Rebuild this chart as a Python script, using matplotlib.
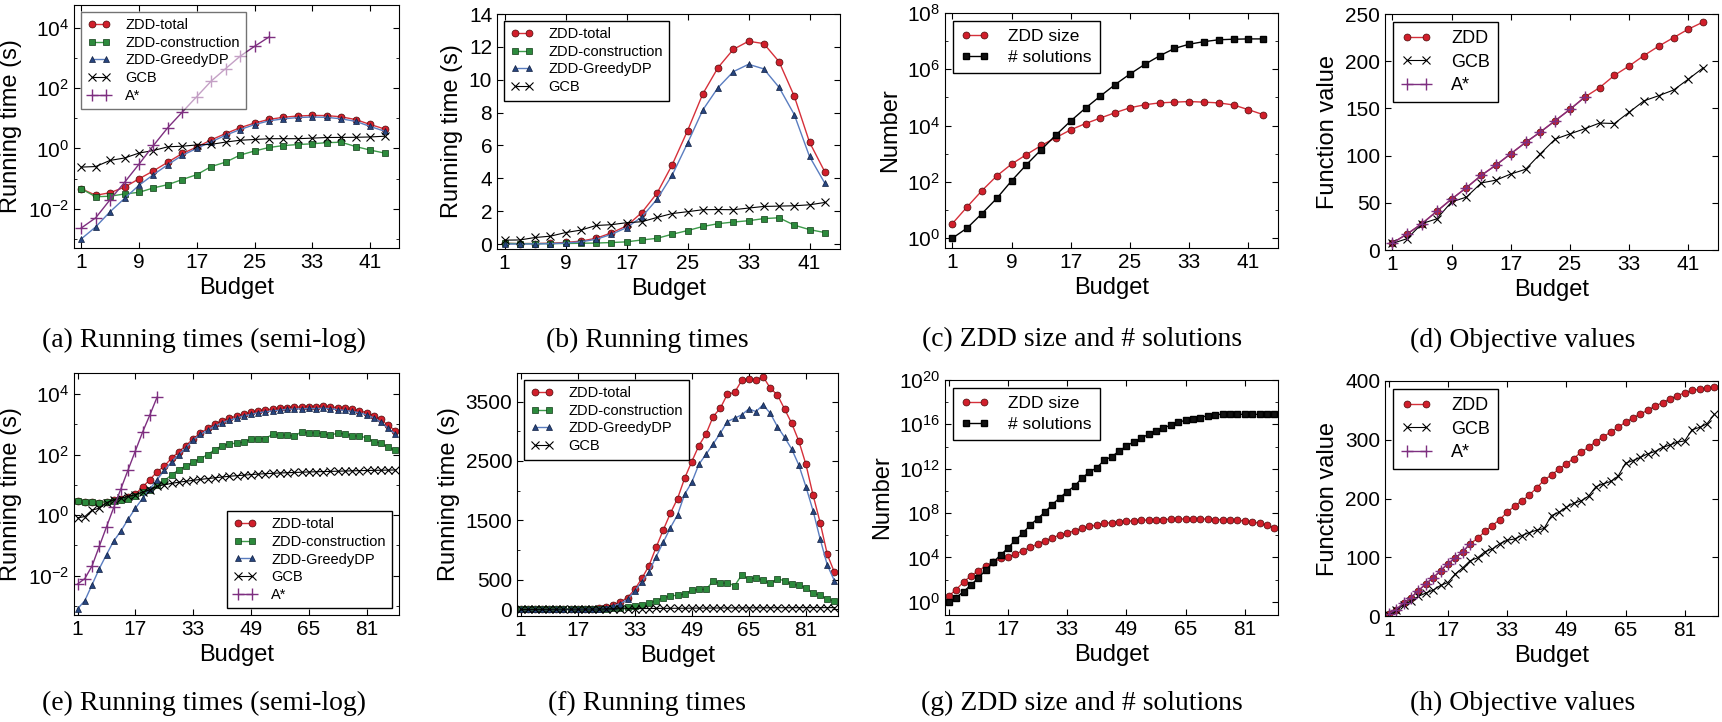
import numpy as np
import matplotlib
matplotlib.use("Agg")
import matplotlib.pyplot as plt
from matplotlib.ticker import NullFormatter

# ---- data: top row (budgets 1..43) ----
budget_top = list(range(1, 44, 2))
astar_top_budget = list(range(1, 28, 2))

total_top = [0.046, 0.028, 0.034, 0.052, 0.098, 0.18, 0.35, 0.68, 1.1, 1.92, 3.1,
             4.84, 6.9, 9.14, 10.74, 11.85, 12.34, 12.2, 11.1, 9.0, 6.2, 4.4]
constr_top = [0.046, 0.025, 0.026, 0.031, 0.035, 0.049, 0.063, 0.093, 0.135, 0.25, 0.35,
              0.6, 0.82, 1.07, 1.24, 1.34, 1.42, 1.55, 1.6, 1.15, 0.88, 0.7]
greedy_top = [0.001, 0.0025, 0.008, 0.022, 0.06, 0.135, 0.29, 0.59, 1.0, 1.65, 2.73,
              4.21, 6.14, 8.16, 9.52, 10.49, 10.94, 10.66, 9.54, 7.88, 5.33, 3.71]
gcb_time_top = [0.24, 0.25, 0.4, 0.48, 0.7, 0.85, 1.13, 1.18, 1.3, 1.36, 1.62,
                1.86, 1.97, 2.09, 2.1, 2.09, 2.19, 2.29, 2.31, 2.33, 2.39, 2.53]
astar_time_top = [0.0023, 0.005, 0.02, 0.075, 0.3, 1.25, 4.9, 16, 52, 170, 440,
                  1130, 2400, 4900]

zdd_size_top = [3.3, 13, 49, 163, 430, 930, 1960, 3750, 7100, 11800, 18600,
                28700, 43000, 55000, 64000, 68000, 71500, 68000, 64000, 54000, 36700, 24500]
n_sol_top = [1, 2.3, 7.5, 26, 109, 407, 1390, 4650, 14700, 42000, 1.12e5,
             2.88e5, 6.8e5, 1.5e6, 3.0e6, 5.5e6, 7.8e6, 9.6e6, 1.12e7, 1.17e7, 1.2e7, 1.2e7]

zdd_obj_top = [7.4, 17, 28, 41, 54, 66, 79, 90, 102, 114, 125,
               137, 149, 162, 172, 185, 195, 206, 216, 225, 234, 241.5]
gcb_obj_top = [7, 12, 28, 33, 51, 56, 71, 74, 80.5, 85.5, 102,
               117.5, 123, 128.5, 134.5, 134, 146, 158, 163.5, 169.5, 181, 193]
astar_obj_top = [7.4, 17, 28, 41, 54, 66, 79, 90, 102, 114, 125, 137, 149, 162]

# ---- data: bottom row (budgets 1..89) ----
budget_bot = list(range(1, 90, 2))
astar_bot_budget = list(range(1, 24, 2))

total_bot = [3.0, 2.8, 2.7, 2.6, 2.8, 3.1, 3.4, 3.9, 5.0, 8.5,
             15, 27, 42, 76, 125, 200, 337, 522, 736, 1045,
             1337, 1618, 1865, 2208, 2489, 2758, 2955, 3247, 3388, 3624,
             3652, 3854, 3882, 3865, 3921, 3725, 3612, 3376, 3135, 2837,
             2444, 1927, 1461, 927, 624]
constr_bot = [3.0, 2.8, 2.7, 2.6, 2.8, 3.0, 3.2, 3.4, 4.4, 5.8,
              6.9, 10, 14, 21, 32, 42, 56, 73, 101, 146,
              197, 225, 242, 258, 326, 337, 337, 478, 438, 449,
              399, 579, 511, 534, 489, 438, 517, 483, 421, 410,
              365, 270, 242, 174, 140]
greedy_bot = [0.0008, 0.0015, 0.005, 0.017, 0.05, 0.14, 0.3, 0.74, 1.7, 3.6,
              7.3, 15, 30, 58, 100, 169, 309, 466, 635, 888,
              1129, 1376, 1590, 1938, 2140, 2444, 2612, 2787, 2966, 3163,
              3219, 3275, 3376, 3331, 3444, 3303, 3079, 2899, 2702, 2433,
              2067, 1663, 1185, 747, 483]
gcb_time_bot = [0.82, 0.9, 1.47, 1.7, 2.6, 3.2, 3.6, 4.2, 4.7, 5.8,
                6.9, 8.9, 10.2, 11.2, 12.3, 13.2, 14.2, 15.2, 16.2, 17.2,
                18.3, 19.3, 20.2, 21, 22, 22.8, 23.5, 24.2, 24.8, 25.3,
                25.8, 26.3, 26.8, 27.2, 27.6, 28, 28.4, 28.8, 29.2, 29.6,
                30, 30.3, 30.6, 30.9, 31.2]
astar_time_bot = [0.0053, 0.008, 0.021, 0.093, 0.41, 1.8, 7.5, 32, 134, 560, 2050, 7900]

zdd_size_bot = [3.3, 12, 60, 213, 600, 1700, 3600, 7900, 11000, 19500,
                39000, 78000, 1.58e5, 3.16e5, 5.5e5, 1.1e6, 1.55e6, 2.5e6, 4.2e6, 6.3e6,
                8.3e6, 1.2e7, 1.35e7, 1.66e7, 1.8e7, 2.0e7, 2.3e7, 2.3e7, 2.5e7, 2.5e7,
                2.9e7, 2.9e7, 2.9e7, 3.1e7, 2.9e7, 2.9e7, 2.6e7, 2.5e7, 2.3e7, 2.2e7,
                1.9e7, 1.6e7, 1.2e7, 8.3e6, 4.5e6]
n_sol_bot = [1, 2.3, 8.1, 32, 138, 690, 3600, 1.6e4, 6.8e4, 3.6e5,
             1.55e6, 7.8e6, 3.1e7, 1.2e8, 5.8e8, 2.3e9, 8.7e9, 2.6e10, 1.4e11, 4.9e11,
             1.2e12, 5.6e12, 1.2e13, 3.6e13, 1.1e14, 2.6e14, 5.5e14, 1.3e15, 2.6e15, 4.8e15,
             8.3e15, 1.55e16, 2.3e16, 3.3e16, 4.1e16, 6.2e16, 7.6e16, 8e16, 8e16, 8e16,
             8e16, 8e16, 8e16, 8e16, 8e16]

zdd_obj_bot = [3.4, 11, 22, 31, 43, 54.5, 65, 77, 89, 99,
               109, 123, 132, 144, 154, 164, 176.5, 187, 196, 206,
               218, 231.5, 240, 250, 259, 268, 279, 287, 297, 305,
               313, 321, 330, 337, 344, 350, 357.5, 363, 369.5, 375,
               380, 384, 386, 388, 389]
gcb_obj_bot = [2.3, 10, 19, 25, 33.5, 39, 44, 52, 57, 71.5,
               82, 94, 99, 109.5, 114, 123, 129, 131, 137, 142,
               146, 149, 171, 176.5, 185, 192, 196, 204, 220, 225,
               229, 238, 260, 264.5, 270, 276, 280, 287, 291, 296,
               298, 317, 321, 327, 343]
astar_obj_bot = [3.4, 11, 22, 31, 43, 54.5, 65, 77, 89, 99, 109, 123]

xticks_top = [1, 9, 17, 25, 33, 41]
xticks_bot = [1, 17, 33, 49, 65, 81]

captions = ["(a) Running times (semi-log)", "(b) Running times",
            "(c) ZDD size and # solutions", "(d) Objective values",
            "(e) Running times (semi-log)", "(f) Running times",
            "(g) ZDD size and # solutions", "(h) Objective values"]

# ---- style ----
plt.rcParams.update({
    "font.family": ["Liberation Sans", "DejaVu Sans"],
    "mathtext.default": "regular",
    "xtick.direction": "in", "ytick.direction": "in",
    "xtick.top": True, "ytick.right": True,
    "xtick.major.size": 4, "ytick.major.size": 4,
    "xtick.minor.size": 2, "ytick.minor.size": 2,
    "xtick.labelsize": 15, "ytick.labelsize": 15,
    "axes.labelsize": 17,
    "axes.linewidth": 0.8,
    "legend.numpoints": 2, "legend.fancybox": False,
    "legend.edgecolor": "black", "legend.framealpha": 1,
})

RED, RED_L = "#d11f2b", "#d6303a"
GRN, GRN_L = "#2c8a3c", "#3d9b4a"
BLU, BLU_L = "#27457f", "#5a7dc0"
PUR = "#7e2f80"

W, H = 1722, 722
fig = plt.figure(figsize=(W / 100, H / 100), dpi=100)


def add_ax(x0, x1, y0, y1):
    return fig.add_axes([x0 / W, 1 - y1 / H, (x1 - x0) / W, (y1 - y0) / H])


def time_legend(ax, loc, alpha=1.0):
    ax.legend(loc=loc, handlelength=1.6, handletextpad=1.0, labelspacing=0.25,
              borderpad=0.45, borderaxespad=0.45, fontsize=10.5, framealpha=alpha)


def small_legend(ax, fs):
    ax.legend(loc="upper left", handlelength=1.65, handletextpad=1.1, labelspacing=0.35,
              borderpad=0.45, borderaxespad=0.45, fontsize=fs)


def time_lines(ax, xs, tot, con, gre, gcb, ms):
    ax.plot(xs, tot, "-o", color=RED_L, mfc=RED, mec="#4a0a0a", mew=0.5, ms=ms, lw=1, label="ZDD-total")
    ax.plot(xs, con, "-s", color=GRN_L, mfc=GRN, mec="#0f3a15", mew=0.5, ms=ms, lw=1, label="ZDD-construction")
    ax.plot(xs, gre, "-^", color=BLU_L, mfc=BLU, mec="#101f40", mew=0.5, ms=ms, lw=1, label="ZDD-GreedyDP")
    ax.plot(xs, gcb, "-x", color="black", mew=0.8, ms=ms + 1, lw=0.8, label="GCB")


def log_ticks(ax, major, minor):
    ax.set_yticks([10.0 ** e for e in major])
    ax.set_yticks([10.0 ** e for e in minor], minor=True)
    ax.set_yticklabels(["$10^{%d}$" % e for e in major])
    ax.yaxis.set_minor_formatter(NullFormatter())


# (a)
ax = add_ax(74, 399, 5, 248)
time_lines(ax, budget_top, total_top, constr_top, greedy_top, gcb_time_top, 5)
ax.plot(astar_top_budget, astar_time_top, "-+", color=PUR, mew=1, ms=8, lw=1, label="A*")
ax.set_yscale("log")
ax.set_ylim(10 ** -3.3, 10 ** 4.75)
log_ticks(ax, [-2, 0, 2, 4], [-3, -1, 1, 3])
ax.set_ylabel("Running time (s)")
time_legend(ax, "upper left", alpha=0.55)

# (b)
ax = add_ax(497, 840, 14, 249)
time_lines(ax, budget_top, total_top, constr_top, greedy_top, gcb_time_top, 5)
ax.set_ylim(-0.3, 14)
ax.set_yticks(range(0, 15, 2))
ax.set_ylabel("Running time (s)")
time_legend(ax, "upper left")

# (c)
ax = add_ax(945, 1278, 13, 248)
ax.plot(budget_top, zdd_size_top, "-o", color=RED_L, mfc=RED, mec="#4a0a0a", mew=0.5, ms=5, lw=1, label="ZDD size")
ax.plot(budget_top, n_sol_top, "-s", color="black", mfc="#111111", mec="black", ms=5, lw=1, label="# solutions")
ax.set_yscale("log")
ax.set_ylim(10 ** -0.35, 1e8)
log_ticks(ax, [0, 2, 4, 6, 8], [1, 3, 5, 7])
ax.set_ylabel("Number")
small_legend(ax, 12.5)

# (d)
ax = add_ax(1385, 1718, 14, 250)
ax.plot(budget_top, zdd_obj_top, "-o", color=RED_L, mfc=RED, mec="#4a0a0a", mew=0.5, ms=5, lw=1, label="ZDD")
ax.plot(budget_top, gcb_obj_top, "-x", color="black", mew=0.8, ms=6, lw=0.8, label="GCB")
ax.plot(astar_top_budget, astar_obj_top, "-+", color=PUR, mew=1, ms=8, lw=1, label="A*")
ax.set_ylim(0, 250)
ax.set_yticks(range(0, 251, 50))
ax.set_ylabel("Function value")
small_legend(ax, 13)

# (e)
ax = add_ax(74, 399, 373, 615)
time_lines(ax, budget_bot, total_bot, constr_bot, greedy_bot, gcb_time_bot, 5)
ax.plot(astar_bot_budget, astar_time_bot, "-+", color=PUR, mew=1, ms=8, lw=1, label="A*")
ax.set_yscale("log")
ax.set_ylim(10 ** -3.3, 10 ** 4.7)
log_ticks(ax, [-2, 0, 2, 4], [-3, -1, 1, 3])
ax.set_ylabel("Running time (s)")
time_legend(ax, "lower right")

# (f)
ax = add_ax(517, 838, 373, 616)
time_lines(ax, budget_bot, total_bot, constr_bot, greedy_bot, gcb_time_bot, 5)
ax.set_ylim(-110, 3980)
ax.set_yticks([0, 500, 1500, 2500, 3500])
ax.set_yticks([1000, 2000, 3000], minor=True)
ax.set_ylabel("Running time (s)")
time_legend(ax, "upper left")

# (g)
ax = add_ax(945, 1278, 380, 615)
ax.plot(budget_bot, zdd_size_bot, "-o", color=RED_L, mfc=RED, mec="#4a0a0a", mew=0.5, ms=5, lw=1, label="ZDD size")
ax.plot(budget_bot, n_sol_bot, "-s", color="black", mfc="#111111", mec="black", ms=5, lw=1, label="# solutions")
ax.set_yscale("log")
ax.set_ylim(10 ** -1.2, 1e20)
log_ticks(ax, [0, 4, 8, 12, 16, 20], [2, 6, 10, 14, 18])
ax.set_ylabel("Number")
small_legend(ax, 12.5)

# (h)
ax = add_ax(1385, 1718, 381, 616)
ax.plot(budget_bot, zdd_obj_bot, "-o", color=RED_L, mfc=RED, mec="#4a0a0a", mew=0.5, ms=5, lw=1, label="ZDD")
ax.plot(budget_bot, gcb_obj_bot, "-x", color="black", mew=0.8, ms=6, lw=0.8, label="GCB")
ax.plot(astar_bot_budget, astar_obj_bot, "-+", color=PUR, mew=1, ms=8, lw=1, label="A*")
ax.set_ylim(0, 400)
ax.set_yticks(range(0, 401, 100))
ax.set_ylabel("Function value")
small_legend(ax, 13)

# shared x settings
for i, a in enumerate(fig.axes):
    top = i < 4
    a.set_xlim(0, 45 if top else 90)
    a.set_xticks(xticks_top if top else xticks_bot)
    a.set_xlabel("Budget")

cap_x = [204, 647, 1082, 1523]
for i, txt in enumerate(captions):
    fig.text(cap_x[i % 4] / W, 1 - (340 if i < 4 else 703) / H, txt,
             ha="center", va="center", fontsize=20, family=["Liberation Serif", "DejaVu Serif"])

fig.savefig("out.png", dpi=100)
